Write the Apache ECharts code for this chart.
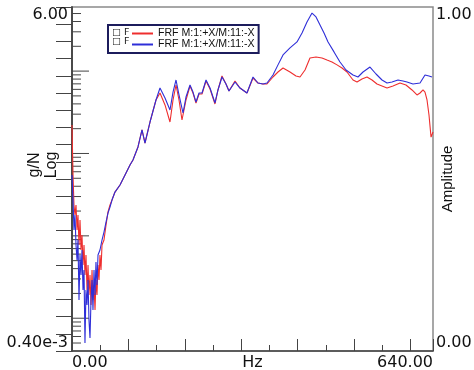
<!DOCTYPE html>
<html>
<head>
<meta charset="utf-8">
<script src="https://cdn.jsdelivr.net/npm/echarts@6/dist/echarts.min.js"></script>
<style>
  html, body { margin: 0; padding: 0; background: #fff; }
  #chart { width: 474px; height: 370px; }
</style>
</head>
<body>
<div id="chart"></div>
<script>
// FRF curves, frequency in Hz and magnitude in g/N (log axis)
const redFreq = [0, 1.8, 3.5, 5.3, 7.1, 8.9, 10.6, 12.4, 14.2, 16.0, 17.7, 19.5, 21.3, 23.0, 24.8, 26.6, 28.4, 30.1, 31.9, 33.7,
  35.5, 37.2, 39.0, 40.8, 42.5, 44.3, 46.1, 47.9, 49.6, 51.4, 53.2, 56.7, 60.3, 63.8, 67.4, 70.9,
  76.2, 85.1, 94.0, 102.8, 108.1, 117.0, 124.1, 129.4, 138.3, 148.9,
  156.0, 164.9, 173.7, 179.1, 184.4, 189.7, 195.0, 202.1, 209.2, 214.5, 219.8, 225.2, 230.5, 237.6, 244.7, 253.5, 258.8, 265.9,
  273.0, 278.3, 289.0, 297.8, 310.2, 320.9, 329.7, 338.6, 345.7, 356.3, 365.2, 374.1, 386.5, 397.1, 404.2, 413.1, 421.9, 432.6,
  443.2, 452.1, 460.9, 469.8, 478.7, 487.5, 498.2, 505.3, 514.1, 523.0, 531.9, 540.7, 549.6, 558.5, 569.1, 581.5, 592.1, 602.8,
  611.6, 617.0, 622.3, 625.8, 629.4, 632.9, 636.5, 640]
const redMag = [0.222, 0.0548, 0.0237, 0.0179, 0.0237, 0.0118, 0.0179, 0.00774, 0.0156, 0.00673, 0.0102, 0.00442, 0.00774, 0.00335,
  0.00585, 0.00220, 0.00442, 0.00191, 0.00335, 0.00145, 0.00385, 0.00166, 0.00253, 0.00126, 0.00291, 0.00191, 0.00442, 0.00291,
  0.00585, 0.00385, 0.00774, 0.0089, 0.0135, 0.0195, 0.0237, 0.0272,
  0.0340, 0.0414, 0.0548, 0.0724, 0.0833, 0.120, 0.193, 0.134, 0.241, 0.446,
  0.542, 0.388, 0.241, 0.446, 0.678, 0.446, 0.255, 0.446, 0.659, 0.542, 0.410, 0.527, 0.527, 0.758, 0.606, 0.399, 0.590, 0.872,
  0.697, 0.573, 0.758, 0.623, 0.542, 0.824, 0.717, 0.697, 0.697, 0.848, 0.975, 1.09, 0.975, 0.872, 0.848, 1.03, 1.44, 1.48,
  1.44, 1.36, 1.29, 1.19, 1.09, 0.975, 0.780, 0.737, 0.802, 0.848, 0.780, 0.697, 0.659, 0.623, 0.659, 0.717, 0.678, 0.590,
  0.513, 0.542, 0.590, 0.557, 0.446, 0.293, 0.158, 0.182]

const blueFreq = [0, 1.8, 3.5, 5.3, 7.1, 8.9, 10.6, 12.4, 14.2, 16.0, 17.7, 19.5, 21.3, 23.0, 24.8, 26.6, 28.4, 30.1, 31.9, 33.7,
  35.5, 37.2, 39.0, 40.8, 42.5, 44.3, 46.1, 49.6, 53.2, 56.7, 60.3, 63.8, 67.4, 70.9,
  76.2, 85.1, 94.0, 102.8, 108.1, 117.0, 124.1, 129.4, 138.3, 148.9,
  156.0, 164.9, 173.7, 179.1, 184.4, 189.7, 196.8, 202.1, 209.2, 214.5, 219.8, 225.2, 230.5, 237.6, 244.7, 253.5, 258.8, 265.9,
  273.0, 278.3, 289.0, 297.8, 310.2, 320.9, 329.7, 338.6, 345.7, 356.3, 365.2, 374.1, 386.5, 398.9, 407.8, 416.6, 425.5, 432.6,
  439.7, 446.8, 453.9, 464.5, 475.1, 485.8, 498.2, 507.0, 515.9, 528.3, 539.0, 549.6, 558.5, 567.3, 577.9, 586.8, 593.9, 604.5,
  617.0, 625.8, 632.9, 638.2]
const blueMag = [0.0548, 0.0272, 0.0118, 0.0179, 0.00774, 0.00509, 0.0089, 0.00166, 0.00585, 0.00335, 0.00673, 0.00220, 0.00385,
  0.000500, 0.00220, 0.00145, 0.00291, 0.000951, 0.000575, 0.00166, 0.00291, 0.00126, 0.00385, 0.00191, 0.00480, 0.00253, 0.00585,
  0.00673, 0.0089, 0.0111, 0.0147, 0.0189, 0.0224, 0.0272,
  0.0340, 0.0414, 0.0548, 0.0724, 0.0833, 0.120, 0.193, 0.134, 0.241, 0.446,
  0.623, 0.471, 0.337, 0.557, 0.780, 0.513, 0.310, 0.485, 0.678, 0.557, 0.421, 0.542, 0.542, 0.780, 0.623, 0.410, 0.590, 0.848,
  0.697, 0.573, 0.737, 0.623, 0.542, 0.848, 0.717, 0.697, 0.717, 0.897, 1.19, 1.57, 1.91, 2.26, 2.90, 3.95, 5.07, 4.54,
  3.63, 2.90, 2.26, 1.71, 1.29, 1.03, 0.897, 0.848, 0.975, 1.12, 0.922, 0.780, 0.717, 0.737, 0.780, 0.758, 0.737, 0.697,
  0.717, 0.897, 0.872, 0.848]

// series names (second one carries a zero-width space so the legend keeps two rows)
const seriesNames = ['FRF M:1:+X/M:11:-X', 'FRF M:1:+X/M:11:-X\u200b']

// axis ranges and labels
const freqRange = [0, 640]
const freqLabels = ['0.00', '640.00']
const magRange = [0.0004, 6]
const magLabels = ['0.40e-3', '6.00']
const ampRange = [0, 1]
const ampLabels = ['0.00', '1.00']

// log ticks drawn on the left axis
const decadeTicks = [0.001, 0.01, 0.1, 1]
const minorTicks = [0.0005, 0.0006, 0.0007, 0.0008, 0.0009,
  0.002, 0.003, 0.004, 0.005, 0.006, 0.007, 0.008, 0.009,
  0.02, 0.03, 0.04, 0.05, 0.06, 0.07, 0.08, 0.09,
  0.2, 0.3, 0.4, 0.5, 0.6, 0.7, 0.8, 0.9,
  2, 3, 4, 5]

const AXIS = '#444'
const FONT = 'DejaVu Sans'
const RED = '#ee2e2e'
const BLUE = '#2e2ed8'

function near (a, b) { return Math.abs(a - b) <= Math.abs(b) * 1e-6 + 1e-12 }

function tickRenderer (len) {
  return function (params, api) {
    const p = api.coord([freqRange[0], api.value(1)])
    return {
      type: 'line',
      shape: { x1: p[0], y1: p[1], x2: p[0] + len, y2: p[1] },
      style: { stroke: AXIS, lineWidth: 1 }
    }
  }
}

const chart = echarts.init(document.getElementById('chart'), null, { renderer: 'canvas', width: 474, height: 370 })

chart.setOption({
  animation: false,
  backgroundColor: '#fff',
  grid: {
    left: 72, right: 41, top: 7, bottom: 19,
    containLabel: false,
    outerBoundsMode: 'none',
    show: true, borderColor: '#8a8a8a', borderWidth: 1.5
  },
  legend: {
    data: seriesNames,
    orient: 'vertical',
    left: 108,
    top: 25,
    padding: [3, 4, 3, 24],
    itemGap: 0,
    itemWidth: 21,
    itemHeight: 2,
    icon: 'rect',
    selectedMode: false,
    backgroundColor: '#fff',
    borderColor: '#1c1c5c',
    borderWidth: 2,
    textStyle: { fontSize: 10.6, fontFamily: 'Liberation Sans', color: '#111', lineHeight: 9 }
  },
  graphic: [{
    type: 'text',
    left: 112,
    top: 28,
    z: 100,
    zlevel: 1,
    style: { text: '\u25a1 F\n\u25a1 F', fontSize: 9.5, fontFamily: FONT, fill: '#222', lineHeight: 9 }
  }],
  xAxis: [{
    type: 'value',
    min: freqRange[0],
    max: freqRange[1],
    interval: 100,
    position: 'bottom',
    axisLine: { lineStyle: { color: AXIS, width: 1.5 } },
    axisTick: { inside: true, length: 12, lineStyle: { color: AXIS } },
    splitLine: { show: false },
    axisLabel: {
      margin: 4,
      fontSize: 16,
      fontFamily: FONT,
      color: '#111',
      showMinLabel: true,
      showMaxLabel: true,
      alignMinLabel: 'left',
      alignMaxLabel: 'right',
      formatter: v => near(v, freqRange[0]) ? freqLabels[0] : (near(v, freqRange[1]) ? freqLabels[1] : '')
    },
    name: 'Hz',
    nameLocation: 'middle',
    nameGap: 4,
    nameMoveOverlap: false,
    nameTextStyle: { fontSize: 16, fontFamily: FONT, color: '#111', verticalAlign: 'top' }
  }, {
    type: 'value',
    min: freqRange[0],
    max: freqRange[1],
    interval: 50,
    position: 'bottom',
    axisLine: { show: false },
    axisTick: { inside: true, length: 6, lineStyle: { color: AXIS } },
    axisLabel: { show: false },
    splitLine: { show: false }
  }],
  yAxis: [{
    type: 'log',
    logBase: 10,
    min: magRange[0],
    max: magRange[1],
    position: 'left',
    axisLine: { show: true, lineStyle: { color: AXIS, width: 1.5 } },
    axisTick: { show: false },
    splitLine: { show: false },
    axisLabel: {
      margin: 4,
      fontSize: 16,
      fontFamily: FONT,
      color: '#111',
      showMinLabel: true,
      showMaxLabel: true,
      verticalAlignMinLabel: 'bottom',
      verticalAlignMaxLabel: 'top',
      formatter: v => near(v, magRange[0]) ? magLabels[0] : (near(v, magRange[1]) ? magLabels[1] : '')
    },
    name: 'g/N\nLog',
    nameLocation: 'middle',
    nameRotate: 90,
    nameGap: 12,
    nameMoveOverlap: false,
    nameTextStyle: { fontSize: 16, fontFamily: 'Liberation Sans', color: '#111', lineHeight: 17, padding: [0, 0, 0, 28] }
  }, {
    type: 'value',
    min: ampRange[0],
    max: ampRange[1],
    interval: 0.05,
    position: 'right',
    axisLine: { show: true, lineStyle: { color: AXIS, width: 1.5 } },
    axisTick: { inside: true, length: 16, lineStyle: { color: AXIS } },
    splitLine: { show: false },
    axisLabel: {
      margin: 3,
      fontSize: 16,
      fontFamily: FONT,
      color: '#111',
      showMinLabel: true,
      showMaxLabel: true,
      verticalAlignMinLabel: 'bottom',
      verticalAlignMaxLabel: 'top',
      formatter: v => near(v, ampRange[0]) ? ampLabels[0] : (near(v, ampRange[1]) ? ampLabels[1] : '')
    },
    name: 'Amplitude',
    nameLocation: 'middle',
    nameRotate: 90,
    nameGap: 7,
    nameMoveOverlap: false,
    nameTextStyle: { fontSize: 15, fontFamily: 'Liberation Sans', color: '#111' }
  }],
  series: [{
    name: seriesNames[0],
    type: 'line',
    xAxisIndex: 0,
    yAxisIndex: 0,
    symbol: 'none',
    itemStyle: { color: RED },
    lineStyle: { width: 1.1, color: RED },
    data: redFreq.map((f, i) => [f, redMag[i]])
  }, {
    name: seriesNames[1],
    type: 'line',
    xAxisIndex: 0,
    yAxisIndex: 0,
    symbol: 'none',
    itemStyle: { color: BLUE },
    lineStyle: { width: 1.1, color: BLUE },
    data: blueFreq.map((f, i) => [f, blueMag[i]])
  }, {
    type: 'custom',
    xAxisIndex: 0,
    yAxisIndex: 0,
    silent: true,
    clip: false,
    renderItem: tickRenderer(17),
    data: decadeTicks.map(v => [freqRange[0], v])
  }, {
    type: 'custom',
    xAxisIndex: 0,
    yAxisIndex: 0,
    silent: true,
    clip: false,
    renderItem: tickRenderer(9),
    data: minorTicks.map(v => [freqRange[0], v])
  }]
})
</script>
</body>
</html>
